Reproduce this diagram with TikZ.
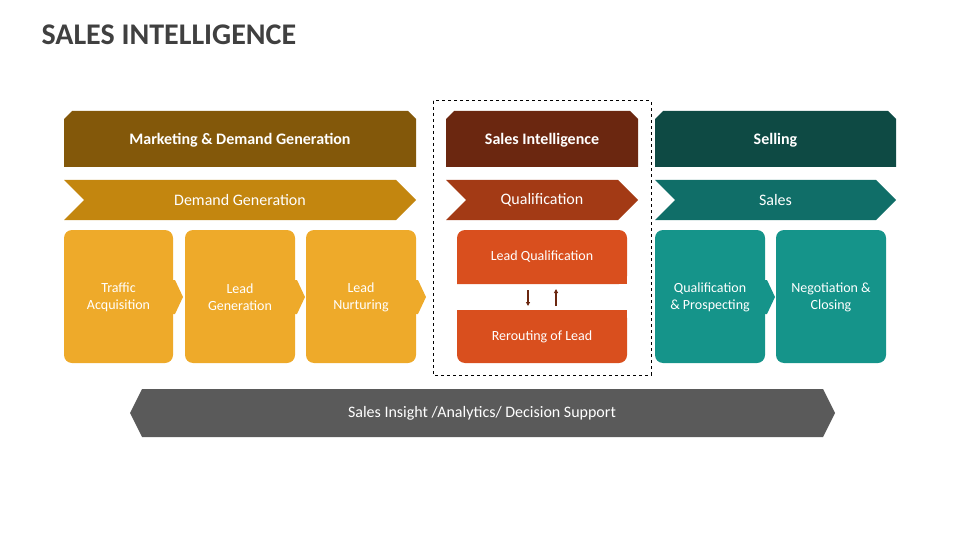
\documentclass[tikz,border=0pt]{standalone}
\usepackage{fontspec}
\setmainfont{Carlito}
\usetikzlibrary{arrows.meta}
\definecolor{hA}{HTML}{83580A}\definecolor{cA}{HTML}{C3860F}\definecolor{bA}{HTML}{EEAA2A}
\definecolor{hB}{HTML}{6B2710}\definecolor{cB}{HTML}{A33A15}\definecolor{bB}{HTML}{D94F1E}
\definecolor{hC}{HTML}{0E4A44}\definecolor{cC}{HTML}{106E68}\definecolor{bC}{HTML}{15948A}
\definecolor{gr}{HTML}{5A5A5A}\definecolor{tt}{HTML}{404040}
\begin{document}
\begin{tikzpicture}[x=1pt,y=-1pt,
  lab/.style={text=white,font=\fontsize{16}{18}\selectfont,align=center},
  hlab/.style={text=white,font=\bfseries\fontsize{16}{18}\selectfont,align=center},
  blab/.style={text=white,font=\fontsize{14}{17}\selectfont,align=center}]
\useasboundingbox (0,0) rectangle (960,540);
\node[anchor=west,text=tt,font=\bfseries\fontsize{30}{34}\selectfont] (title) at (38,35) {SALES INTELLIGENCE};
% headers
\newcommand\hdr[5]{\fill[#3] (#1,167) -- (#1,119) -- (#1+8,111) -- (#2-8,111) -- (#2,119) -- (#2,167) -- cycle;
  \node[hlab] (#4) at ({(#1+#2)/2},140) {#5};}
\hdr{64}{416}{hA}{h1}{Marketing \& Demand Generation}
\hdr{446}{638}{hB}{h2}{Sales Intelligence}
\hdr{655}{896}{hC}{h3}{Selling}
% chevrons
\newcommand\chev[5]{\fill[#3] (#1,180) -- (#2-20,180) -- (#2,200) -- (#2-20,220) -- (#1,220) -- (#1+20,200) -- cycle;
  \node[lab] (#4) at ({(#1+#2)/2},200) {#5};}
\chev{64}{416}{cA}{c1}{Demand Generation}
\chev{446}{638}{cB}{c2}{Qualification}
\chev{655}{896}{cC}{c3}{Sales}
% boxes
\newcommand\bx[5]{\fill[#3,rounded corners=8] (#1,230) rectangle (#2,363);
  \fill[#3] (#2-1,280) -- (#2+2,280) -- (#2+10,297) -- (#2+2,314) -- (#2-1,314) -- cycle;
  \node[blab] (#4) at ({(#1+#2)/2},297) {#5};}
\newcommand\bxn[5]{\fill[#3,rounded corners=8] (#1,230) rectangle (#2,363);
  \node[blab] (#4) at ({(#1+#2)/2},297) {#5};}
\bx{64}{173}{bA}{b1}{Traffic\\Acquisition}
\bx{185}{295}{bA}{b2}{Lead\\Generation}
\bx{306}{416}{bA}{b3}{Lead\\Nurturing}
\bx{655}{765}{bC}{b4}{Qualification\\\& Prospecting}
\bxn{776}{886}{bC}{b5}{Negotiation \&\\Closing}
% sales intelligence boxes
\fill[bB,rounded corners=8] (457,284) -- (457,230) -- (627,230) -- (627,284) [sharp corners] -- cycle;
\fill[bB] (457,270) rectangle (627,284);
\fill[bB,rounded corners=8] (457,310) -- (457,363) -- (627,363) -- (627,310) [sharp corners] -- cycle;
\fill[bB] (457,310) rectangle (627,320);
\node[blab] (lq) at (542,257) {Lead Qualification};
\node[blab] (rl) at (542,337) {Rerouting of Lead};
\coordinate (d1) at (528,290); \coordinate (d2) at (528,306);
\coordinate (u1) at (556,306); \coordinate (u2) at (556,289);
\draw[hB,line width=1.2pt,-{Triangle[length=4pt,width=4pt]}] (d1) -- (d2);
\draw[hB,line width=1.2pt,-{Triangle[length=4pt,width=4pt]}] (u1) -- (u2);
\draw[black,dashed,line width=1pt] (433,101) rectangle (651,375);
% bottom bar
\fill[gr] (130,413) -- (142,389) -- (823,389) -- (835,413) -- (823,437) -- (142,437) -- cycle;
\node[lab,font=\fontsize{16}{18}\selectfont] (bar) at (482,413) {Sales Insight /Analytics/ Decision Support};
\end{tikzpicture}
\end{document}
